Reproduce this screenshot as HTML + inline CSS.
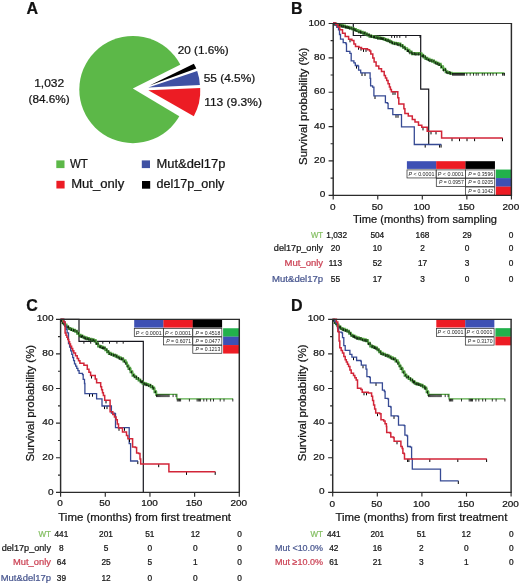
<!DOCTYPE html>
<html lang="en"><head><meta charset="utf-8"><title>Figure</title>
<style>
html,body{margin:0;padding:0;background:#fff;}
svg{display:block;font-family:"Liberation Sans", sans-serif;}
text{stroke-width:0.24px;paint-order:stroke;}
</style></head><body>
<svg width="520" height="584" viewBox="0 0 520 584">
<rect width="520" height="584" fill="#fff"/>
<text x="26.50" y="14.00" font-size="16" text-anchor="start" fill="#111" stroke="#111" font-weight="bold">A</text>
<text x="291.10" y="14.00" font-size="16" text-anchor="start" fill="#111" stroke="#111" font-weight="bold">B</text>
<text x="26.20" y="310.60" font-size="16" text-anchor="start" fill="#111" stroke="#111" font-weight="bold">C</text>
<text x="291.10" y="310.60" font-size="16" text-anchor="start" fill="#111" stroke="#111" font-weight="bold">D</text>
<circle cx="132.9" cy="89.6" r="53.6" fill="#5cb848"/>
<path d="M132.8 88.4L248.8 30.15L243.8 154.65Z" fill="#fff"/>
<path d="M149.6 85.6L193.8 63.7A50 50 0 0 1 196.3 68.5Z" fill="#000"/>
<path d="M148.3 87.6L197.2 70.9A52 52 0 0 1 199.9 84.9Z" fill="#3f51a3"/>
<path d="M148.3 90.2L200.2 88.0A52 52 0 0 1 193.8 116.2Z" fill="#ec1c24"/>
<text x="49.15" y="86.60" font-size="11.6" text-anchor="middle" fill="#141414" stroke="#141414" textLength="30.00" lengthAdjust="spacingAndGlyphs">1,032</text>
<text x="49.15" y="102.80" font-size="11.6" text-anchor="middle" fill="#141414" stroke="#141414" textLength="41.20" lengthAdjust="spacingAndGlyphs">(84.6%)</text>
<text x="177.70" y="54.00" font-size="11.6" text-anchor="start" fill="#141414" stroke="#141414" textLength="51.00" lengthAdjust="spacingAndGlyphs">20 (1.6%)</text>
<text x="203.70" y="81.70" font-size="11.6" text-anchor="start" fill="#141414" stroke="#141414" textLength="51.50" lengthAdjust="spacingAndGlyphs">55 (4.5%)</text>
<text x="204.20" y="106.00" font-size="11.6" text-anchor="start" fill="#141414" stroke="#141414" textLength="57.70" lengthAdjust="spacingAndGlyphs">113 (9.3%)</text>
<rect x="56.3" y="160.4" width="8.2" height="7.7" fill="#5cb848"/>
<rect x="56.4" y="180.8" width="8.2" height="7.7" fill="#ec1c24"/>
<rect x="141.8" y="160.4" width="8.2" height="7.7" fill="#3f51a3"/>
<rect x="142.0" y="181.0" width="8.2" height="7.7" fill="#000"/>
<text x="70.00" y="168.00" font-size="12" text-anchor="start" fill="#141414" stroke="#141414" textLength="17.90" lengthAdjust="spacingAndGlyphs">WT</text>
<text x="71.20" y="188.40" font-size="12" text-anchor="start" fill="#141414" stroke="#141414" textLength="53.00" lengthAdjust="spacingAndGlyphs">Mut_only</text>
<text x="156.50" y="168.00" font-size="12" text-anchor="start" fill="#141414" stroke="#141414" textLength="68.90" lengthAdjust="spacingAndGlyphs">Mut&amp;del17p</text>
<text x="156.50" y="188.40" font-size="12" text-anchor="start" fill="#141414" stroke="#141414" textLength="67.90" lengthAdjust="spacingAndGlyphs">del17p_only</text>
<path d="M360.70 35.50v2.4M391.70 35.50v2.4M394.50 35.50v2.4M397.00 35.50v2.4M399.80 35.50v2.4M405.90 35.50v2.4M420.00 35.50v2.4" stroke="#000" stroke-width="0.9" fill="none"/>
<path d="M333.00 23.50H353.30V23.50H353.30V35.50H420.70V35.50H420.70V89.20H428.70V89.20H428.70V144.50" fill="none" stroke="#15151c" stroke-width="1.2" stroke-linejoin="miter"/>
<path d="M333.00 23.00H334.83V23.40H336.67V23.80H338.50V24.20H340.73V24.73H342.97V25.27H345.20V25.80H347.43V26.47H349.67V27.13H351.90V27.80H354.13V28.70H356.37V29.60H358.60V30.50H360.87V31.37H363.13V32.23H365.40V33.10H367.40V34.15H369.40V35.20H371.63V35.63H373.87V36.07H376.10V36.50H378.37V36.97H380.63V37.43H382.90V37.90H384.70V38.57H386.50V39.23H388.30V39.90H390.00V40.90H391.70V41.90H393.97V42.33H396.23V42.77H398.50V43.20H400.73V44.77H402.97V46.33H405.20V47.90H407.43V49.50H409.67V51.10H411.90V52.70H420.00V52.90H421.80V54.43H423.60V55.97H425.40V57.50H427.63V58.40H429.87V59.30H432.10V60.20H434.33V61.30H436.57V62.40H438.80V63.50H441.07V65.97H443.33V68.43H445.60V70.90H447.73V71.60H449.87V72.30H452.00V73.00" fill="none" stroke="#3f8f38" stroke-width="1.9" transform="translate(0,1.5)"/>
<path d="M333.00 23.00H334.83V23.40H336.67V23.80H338.50V24.20H340.73V24.73H342.97V25.27H345.20V25.80H347.43V26.47H349.67V27.13H351.90V27.80H354.13V28.70H356.37V29.60H358.60V30.50H360.87V31.37H363.13V32.23H365.40V33.10H367.40V34.15H369.40V35.20H371.63V35.63H373.87V36.07H376.10V36.50H378.37V36.97H380.63V37.43H382.90V37.90H384.70V38.57H386.50V39.23H388.30V39.90H390.00V40.90H391.70V41.90H393.97V42.33H396.23V42.77H398.50V43.20H400.73V44.77H402.97V46.33H405.20V47.90H407.43V49.50H409.67V51.10H411.90V52.70H420.00V52.90H421.80V54.43H423.60V55.97H425.40V57.50H427.63V58.40H429.87V59.30H432.10V60.20H434.33V61.30H436.57V62.40H438.80V63.50H441.07V65.97H443.33V68.43H445.60V70.90H447.73V71.60H449.87V72.30H452.00V73.00H504.50V73.00" fill="none" stroke="#5aad48" stroke-width="1.35" stroke-linejoin="miter"/>
<path d="M335.00 23.03v2.38M336.29 22.95v2.84M337.37 23.40v2.47M339.05 24.01v2.91M340.04 23.76v2.61M341.58 24.67v2.92M342.92 24.89v2.90M343.89 24.99v2.59M345.40 25.59v2.92M346.34 26.07v2.41M347.76 26.11v2.46M348.75 26.15v2.64M349.76 27.10v2.48M351.17 26.64v2.59M353.06 27.60v2.70M354.11 28.06v2.78M355.27 28.61v2.73M356.93 29.64v2.34M358.96 30.72v2.85M360.56 30.70v2.86M361.93 31.18v2.58M364.00 31.82v2.74M364.96 31.78v2.35M366.89 32.77v2.41M368.14 33.92v2.34M369.21 33.65v2.41M370.25 34.78v2.55M371.52 34.72v2.91M373.40 35.62v2.40M374.52 35.77v2.54M376.12 36.29v2.39M377.78 36.68v3.00M379.13 36.84v2.64M380.69 37.00v2.37M381.66 37.21v2.49M382.63 37.60v2.41M383.78 37.42v2.97M385.50 38.49v2.40M386.91 39.17v2.32M388.19 39.16v2.98M389.79 40.09v2.79M391.23 40.61v2.56M392.49 41.53v2.84M394.35 42.26v2.85M396.09 42.10v2.46M397.28 42.92v2.99M398.87 43.38v2.86M400.40 43.35v2.82M402.35 44.45v2.66M404.12 46.12v2.32M405.37 47.42v2.50M407.45 49.21v2.78M408.49 49.77v2.61M409.89 51.35v2.99M411.70 51.36v2.56M412.78 52.38v2.46M414.27 52.36v2.44M415.21 52.70v2.93M416.92 52.87v2.64M418.73 52.72v2.86M420.32 52.47v2.76M422.27 54.66v2.85M423.55 54.53v2.63M425.28 55.61v2.85M426.90 57.27v2.86M428.49 58.68v2.58M429.94 59.12v2.96M431.85 59.38v2.42M433.88 59.80v2.41M435.35 61.52v2.86M437.05 62.02v2.88M438.02 62.68v2.76M439.76 63.28v2.68M441.44 65.57v2.31M443.53 68.71v2.75M445.42 68.35v2.95M446.66 70.75v2.91M448.02 71.76v2.45M449.72 71.30v2.51M450.65 71.99v2.71M452.50 73.00v2.7M453.50 73.00v2.7M454.50 73.00v2.7M455.50 73.00v2.7M456.50 73.00v2.7M457.50 73.00v2.7M458.50 73.00v2.7M459.50 73.00v2.7M460.50 73.00v2.7M461.50 73.00v2.7M462.50 73.00v2.7M463.50 73.00v2.7M464.50 73.00v2.7M466.80 73.00v2.7M470.20 73.00v2.7M473.50 73.00v2.7M476.20 73.00v2.7M478.20 73.00v2.7M482.30 73.00v2.7M484.30 73.00v2.7M487.70 73.00v2.7M490.40 73.00v2.7M493.00 73.00v2.7M496.40 73.00v2.7M502.50 73.00v2.7M503.80 73.00v2.7M504.50 73.00v2.7" stroke="#000" stroke-width="0.8" fill="none"/>
<path d="M356.50 65.50v3.1M362.00 72.90v3.1M365.00 72.90v3.1M375.00 95.90v3.1M396.00 114.70v3.1M398.00 114.70v3.1M425.20 144.50v3.1M439.60 144.50v3.1M441.10 144.50v3.1" stroke="#000" stroke-width="1.0" fill="none"/>
<path d="M333.00 23.00H335.10V25.10H336.80V27.45H338.50V29.80H339.50V34.50H340.50V39.20H343.20V42.60H345.90V43.90H346.50V51.30H349.90V53.40H351.20V60.80H353.90V62.80H355.30V65.50H358.00V66.10H358.60V70.20H360.70V72.90H369.40V72.90H370.10V78.30H370.60V85.80H372.60V87.10H373.90V95.90H384.70V95.90H385.40V102.60H387.40V103.30H388.10V108.60H392.10V108.60H392.80V114.70H400.90V114.70H401.50V126.80H414.30V126.80H414.30V144.50H441.30V144.50" fill="none" stroke="#364a94" stroke-width="1.3" stroke-linejoin="miter"/>
<path d="M350.00 39.20v3.1M358.50 46.60v3.1M361.00 47.60v3.1M363.50 48.80v3.1M366.00 48.80v3.1M393.00 91.80v3.1M395.00 91.80v3.1M423.00 127.30v3.1M431.00 131.30v3.1M436.00 131.30v3.1M452.00 138.10v3.1M459.50 138.10v3.1M467.00 138.10v3.1M474.60 138.10v3.1M502.50 138.10v3.1" stroke="#000" stroke-width="1.0" fill="none"/>
<path d="M333.00 23.00H335.80V24.40H337.80V27.10H339.80V29.80H342.50V33.20H345.20V36.50H348.60V39.20H351.90V40.60H353.90V43.90H355.50V46.60H359.00V47.60H361.50V48.80H367.50V49.80H369.60V51.00H370.80V54.00H372.80V58.10H374.10V62.10H376.10V66.10H378.80V68.80H381.50V71.50H384.20V75.60H385.45V78.00H386.70V80.40H388.05V83.75H389.40V87.10H390.40V89.45H391.40V91.80H396.80V91.80H397.80V97.85H398.80V103.90H402.90V103.90H403.90V108.65H404.90V113.40H408.30V116.00H412.30V119.40H415.00V122.10H418.50V125.30H421.80V127.30H426.50V127.30H427.20V131.30H441.30V131.30H441.60V138.10H502.70V138.10" fill="none" stroke="#d22538" stroke-width="1.5" stroke-linejoin="miter"/>
<rect x="406.90" y="161.20" width="29.45" height="7.7" fill="#3e50b4"/>
<rect x="436.20" y="161.20" width="29.45" height="7.7" fill="#ed1c24"/>
<rect x="465.50" y="161.20" width="29.45" height="7.7" fill="#000"/>
<rect x="495.80" y="169.55" width="15.70" height="8.65" fill="#22b14c"/>
<rect x="407.00" y="169.90" width="29.10" height="8.05" fill="#fff" stroke="#333" stroke-width="0.75"/>
<text x="434.50" y="175.85" font-size="5.9" text-anchor="end" fill="#262626" textLength="26.0" lengthAdjust="spacingAndGlyphs"><tspan font-style="italic">P</tspan> &lt; 0.0001</text>
<rect x="436.30" y="169.90" width="29.10" height="8.05" fill="#fff" stroke="#333" stroke-width="0.75"/>
<text x="463.80" y="175.85" font-size="5.9" text-anchor="end" fill="#262626" textLength="26.0" lengthAdjust="spacingAndGlyphs"><tspan font-style="italic">P</tspan> &lt; 0.0001</text>
<rect x="465.60" y="169.90" width="29.10" height="8.05" fill="#fff" stroke="#333" stroke-width="0.75"/>
<text x="493.10" y="175.85" font-size="5.9" text-anchor="end" fill="#262626" textLength="24.8" lengthAdjust="spacingAndGlyphs"><tspan font-style="italic">P</tspan> = 0.3596</text>
<rect x="495.80" y="178.10" width="15.70" height="8.65" fill="#3e50b4"/>
<rect x="436.30" y="178.45" width="29.10" height="8.05" fill="#fff" stroke="#333" stroke-width="0.75"/>
<text x="463.80" y="184.40" font-size="5.9" text-anchor="end" fill="#262626" textLength="24.8" lengthAdjust="spacingAndGlyphs"><tspan font-style="italic">P</tspan> = 0.0957</text>
<rect x="465.60" y="178.45" width="29.10" height="8.05" fill="#fff" stroke="#333" stroke-width="0.75"/>
<text x="493.10" y="184.40" font-size="5.9" text-anchor="end" fill="#262626" textLength="24.8" lengthAdjust="spacingAndGlyphs"><tspan font-style="italic">P</tspan> = 0.0205</text>
<rect x="495.80" y="186.65" width="15.70" height="8.65" fill="#ed1c24"/>
<rect x="465.60" y="187.00" width="29.10" height="8.05" fill="#fff" stroke="#333" stroke-width="0.75"/>
<text x="493.10" y="192.95" font-size="5.9" text-anchor="end" fill="#262626" textLength="24.8" lengthAdjust="spacingAndGlyphs"><tspan font-style="italic">P</tspan> = 0.1042</text>
<path d="M332.5 23.5H512.1M332.5 195.3H512.1" fill="none" stroke="#2b2b2b" stroke-width="1.15"/>
<path d="M333.2 23.5V195.3M511.4 23.5V195.3" fill="none" stroke="#2b2b2b" stroke-width="1.45"/>
<path d="M333.2 23.50h-4.6M333.2 40.68h-2.6M333.2 57.86h-4.6M333.2 75.04h-2.6M333.2 92.22h-4.6M333.2 109.40h-2.6M333.2 126.58h-4.6M333.2 143.76h-2.6M333.2 160.94h-4.6M333.2 178.12h-2.6M333.2 195.30h-4.6M333.20 195.3v4.3M377.75 195.3v4.3M422.30 195.3v4.3M466.85 195.3v4.3M511.40 195.3v4.3" stroke="#2b2b2b" stroke-width="1.15" fill="none"/>
<text x="325.30" y="25.60" font-size="9.9" text-anchor="end" fill="#141414" stroke="#141414" textLength="16.74" lengthAdjust="spacingAndGlyphs">100</text>
<text x="325.30" y="59.96" font-size="9.9" text-anchor="end" fill="#141414" stroke="#141414" textLength="11.16" lengthAdjust="spacingAndGlyphs">80</text>
<text x="325.30" y="94.32" font-size="9.9" text-anchor="end" fill="#141414" stroke="#141414" textLength="11.16" lengthAdjust="spacingAndGlyphs">60</text>
<text x="325.30" y="128.68" font-size="9.9" text-anchor="end" fill="#141414" stroke="#141414" textLength="11.16" lengthAdjust="spacingAndGlyphs">40</text>
<text x="325.30" y="163.04" font-size="9.9" text-anchor="end" fill="#141414" stroke="#141414" textLength="11.16" lengthAdjust="spacingAndGlyphs">20</text>
<text x="325.30" y="197.40" font-size="9.9" text-anchor="end" fill="#141414" stroke="#141414" textLength="5.58" lengthAdjust="spacingAndGlyphs">0</text>
<text x="332.70" y="210.30" font-size="9.7" text-anchor="middle" fill="#141414" stroke="#141414" textLength="5.55" lengthAdjust="spacingAndGlyphs">0</text>
<text x="377.25" y="210.30" font-size="9.7" text-anchor="middle" fill="#141414" stroke="#141414" textLength="11.10" lengthAdjust="spacingAndGlyphs">50</text>
<text x="421.80" y="210.30" font-size="9.7" text-anchor="middle" fill="#141414" stroke="#141414" textLength="16.65" lengthAdjust="spacingAndGlyphs">100</text>
<text x="466.35" y="210.30" font-size="9.7" text-anchor="middle" fill="#141414" stroke="#141414" textLength="16.65" lengthAdjust="spacingAndGlyphs">150</text>
<text x="510.90" y="210.30" font-size="9.7" text-anchor="middle" fill="#141414" stroke="#141414" textLength="16.65" lengthAdjust="spacingAndGlyphs">200</text>
<text x="307.30" y="165.00" font-size="11.4" text-anchor="start" fill="#141414" stroke="#141414" textLength="117.40" lengthAdjust="spacingAndGlyphs" transform="rotate(-90 307.30 165.00)">Survival probability (%)</text>
<text x="353.00" y="223.40" font-size="11.4" text-anchor="start" fill="#141414" stroke="#141414" textLength="144.00" lengthAdjust="spacingAndGlyphs">Time (months) from sampling</text>
<text x="323.10" y="238.20" font-size="9.1" text-anchor="end" fill="#84bf62" stroke="#84bf62" textLength="12.20" lengthAdjust="spacingAndGlyphs">WT</text>
<text x="323.10" y="251.10" font-size="9.1" text-anchor="end" fill="#1a1a1a" stroke="#1a1a1a" textLength="49.30" lengthAdjust="spacingAndGlyphs">del17p_only</text>
<text x="323.10" y="266.00" font-size="9.1" text-anchor="end" fill="#cc4456" stroke="#cc4456" textLength="38.60" lengthAdjust="spacingAndGlyphs">Mut_only</text>
<text x="323.10" y="281.60" font-size="9.1" text-anchor="end" fill="#4a5890" stroke="#4a5890" textLength="51.00" lengthAdjust="spacingAndGlyphs">Mut&amp;del17p</text>
<text x="336.70" y="238.20" font-size="8.3" text-anchor="middle" fill="#141414" stroke="#141414">1,032</text>
<text x="377.30" y="238.20" font-size="8.3" text-anchor="middle" fill="#141414" stroke="#141414">504</text>
<text x="422.50" y="238.20" font-size="8.3" text-anchor="middle" fill="#141414" stroke="#141414">168</text>
<text x="467.00" y="238.20" font-size="8.3" text-anchor="middle" fill="#141414" stroke="#141414">29</text>
<text x="511.00" y="238.20" font-size="8.3" text-anchor="middle" fill="#141414" stroke="#141414">0</text>
<text x="335.40" y="251.10" font-size="8.3" text-anchor="middle" fill="#141414" stroke="#141414">20</text>
<text x="377.30" y="251.10" font-size="8.3" text-anchor="middle" fill="#141414" stroke="#141414">10</text>
<text x="422.50" y="251.10" font-size="8.3" text-anchor="middle" fill="#141414" stroke="#141414">2</text>
<text x="467.00" y="251.10" font-size="8.3" text-anchor="middle" fill="#141414" stroke="#141414">0</text>
<text x="511.00" y="251.10" font-size="8.3" text-anchor="middle" fill="#141414" stroke="#141414">0</text>
<text x="335.40" y="266.00" font-size="8.3" text-anchor="middle" fill="#141414" stroke="#141414">113</text>
<text x="377.30" y="266.00" font-size="8.3" text-anchor="middle" fill="#141414" stroke="#141414">52</text>
<text x="422.50" y="266.00" font-size="8.3" text-anchor="middle" fill="#141414" stroke="#141414">17</text>
<text x="467.00" y="266.00" font-size="8.3" text-anchor="middle" fill="#141414" stroke="#141414">3</text>
<text x="511.00" y="266.00" font-size="8.3" text-anchor="middle" fill="#141414" stroke="#141414">0</text>
<text x="335.40" y="281.60" font-size="8.3" text-anchor="middle" fill="#141414" stroke="#141414">55</text>
<text x="377.30" y="281.60" font-size="8.3" text-anchor="middle" fill="#141414" stroke="#141414">17</text>
<text x="422.50" y="281.60" font-size="8.3" text-anchor="middle" fill="#141414" stroke="#141414">3</text>
<text x="467.00" y="281.60" font-size="8.3" text-anchor="middle" fill="#141414" stroke="#141414">0</text>
<text x="511.00" y="281.60" font-size="8.3" text-anchor="middle" fill="#141414" stroke="#141414">0</text>
<path d="M83.90 341.30v2.4M90.70 341.30v2.4M102.80 341.30v2.4M109.50 341.30v2.4M116.90 341.30v2.4M123.20 341.30v2.4" stroke="#000" stroke-width="0.9" fill="none"/>
<path d="M60.60 319.30H79.00V319.30H79.00V341.30H143.30V341.30H143.30V492.40" fill="none" stroke="#15151c" stroke-width="1.2" stroke-linejoin="miter"/>
<path d="M60.60 319.30H62.50V321.50H63.80V322.85H65.10V324.20H66.80V325.90H68.50V327.60H70.73V328.50H72.97V329.40H75.20V330.30H77.10V332.30H79.00V334.30H80.87V335.20H82.73V336.10H84.60V337.00H86.95V337.68H89.30V338.35H91.65V339.02H94.00V339.70H96.05V342.40H98.10V345.10H99.90V345.77H101.70V346.43H103.50V347.10H105.27V348.90H107.03V350.70H108.80V352.50H111.07V353.40H113.33V354.30H115.60V355.20H117.40V356.10H119.20V357.00H121.00V357.90H123.40V360.00H125.80V362.10H127.15V364.80H128.50V367.50H130.50V370.85H132.50V374.20H134.50V375.90H136.50V377.60H138.53V379.17H140.57V380.73H142.60V382.30H144.60V382.97H146.60V383.63H148.60V384.30H150.65V385.75H152.70V387.20H154.50V390.80H156.30V394.40" fill="none" stroke="#3f8f38" stroke-width="1.9" transform="translate(0,1.5)"/>
<path d="M60.60 319.30H62.50V321.50H63.80V322.85H65.10V324.20H66.80V325.90H68.50V327.60H70.73V328.50H72.97V329.40H75.20V330.30H77.10V332.30H79.00V334.30H80.87V335.20H82.73V336.10H84.60V337.00H86.95V337.68H89.30V338.35H91.65V339.02H94.00V339.70H96.05V342.40H98.10V345.10H99.90V345.77H101.70V346.43H103.50V347.10H105.27V348.90H107.03V350.70H108.80V352.50H111.07V353.40H113.33V354.30H115.60V355.20H117.40V356.10H119.20V357.00H121.00V357.90H123.40V360.00H125.80V362.10H127.15V364.80H128.50V367.50H130.50V370.85H132.50V374.20H134.50V375.90H136.50V377.60H138.53V379.17H140.57V380.73H142.60V382.30H144.60V382.97H146.60V383.63H148.60V384.30H150.65V385.75H152.70V387.20H154.50V390.80H156.30V394.40H176.90V394.40H176.90V398.80H233.10V398.80" fill="none" stroke="#5aad48" stroke-width="1.35" stroke-linejoin="miter"/>
<path d="M61.50 318.91v2.92M62.71 321.77v2.45M64.11 323.11v2.58M65.17 324.09v2.99M67.16 326.07v2.41M68.49 325.75v2.66M69.94 327.37v2.44M71.54 328.25v2.81M73.52 328.92v2.69M74.93 329.25v2.31M76.93 330.07v2.74M78.43 332.21v2.35M79.97 334.59v2.85M81.50 335.48v2.37M82.42 334.91v2.33M83.85 336.22v2.49M84.97 336.60v2.60M85.87 337.23v2.87M87.73 337.38v2.40M88.84 337.91v2.70M90.31 338.41v2.36M92.08 338.57v2.78M93.64 338.87v2.35M94.94 339.95v2.74M96.46 342.54v2.36M98.02 342.58v2.35M99.87 345.29v2.62M100.89 345.54v2.69M102.46 346.67v2.49M103.66 346.70v2.67M104.90 346.79v2.38M106.72 348.53v2.34M108.23 350.36v2.52M109.81 352.24v2.83M111.62 353.13v2.65M113.61 353.94v2.54M115.04 353.81v2.48M116.68 354.71v2.81M118.19 356.04v2.43M119.70 356.88v2.95M121.43 357.49v2.87M122.87 357.75v2.65M124.41 360.17v2.58M125.89 362.01v2.78M127.92 365.09v2.54M129.66 367.67v2.79M131.61 370.86v2.58M133.64 373.98v2.34M134.85 375.50v2.35M136.42 375.99v2.48M138.45 377.23v2.36M140.36 379.34v2.91M141.43 380.77v2.50M142.47 380.43v2.51M143.90 382.17v2.41M144.89 382.82v2.48M146.08 383.24v2.98M147.07 383.57v2.47M148.77 384.57v2.52M150.61 384.09v2.30M152.59 385.56v2.63M153.67 387.10v2.44M155.43 390.70v2.30M156.50 394.40v2.7M157.55 394.40v2.7M158.60 394.40v2.7M159.65 394.40v2.7M160.70 394.40v2.7M161.75 394.40v2.7M162.80 394.40v2.7M163.85 394.40v2.7M164.90 394.40v2.7M165.95 394.40v2.7M167.00 394.40v2.7M168.05 394.40v2.7M169.10 394.40v2.7M173.10 394.40v2.7M176.00 394.40v2.7M177.30 398.80v2.7M178.40 398.80v2.7M179.50 398.80v2.7M180.60 398.80v2.7M189.40 398.80v2.7M197.10 398.80v2.7M198.30 398.80v2.7M199.40 398.80v2.7M200.40 398.80v2.7M203.80 398.80v2.7M206.70 398.80v2.7M210.60 398.80v2.7M213.50 398.80v2.7M220.20 398.80v2.7M224.00 398.80v2.7M232.80 398.80v2.7" stroke="#000" stroke-width="0.8" fill="none"/>
<path d="M89.50 393.60v3.1M92.50 393.60v3.1M104.50 406.00v3.1M107.00 406.00v3.1M119.00 427.70v3.1M124.50 427.70v3.1M137.80 461.00v3.1" stroke="#000" stroke-width="1.0" fill="none"/>
<path d="M60.60 319.30H64.00V322.00H65.03V325.63H66.07V329.27H67.10V332.90H68.50V343.60H69.60V347.20H70.70V350.80H71.80V354.40H72.70V357.53H73.60V360.67H74.50V363.80H75.63V366.07H76.77V368.33H77.90V370.60H79.10V373.40H82.50V374.70H83.20V379.40H84.50V383.50H84.90V393.60H96.00V393.60H96.60V398.90H101.30V398.90H102.00V406.00H110.80V406.00H111.40V413.10H114.80V413.70H115.50V427.70H129.20V427.70H129.20V443.60H130.60V444.20H130.60V461.00H138.00V461.00" fill="none" stroke="#364a94" stroke-width="1.3" stroke-linejoin="miter"/>
<path d="M91.50 375.40v3.1M106.00 400.30v3.1M129.50 438.80v3.1M158.70 464.10v3.1M186.50 471.80v3.1M215.20 471.80v3.1" stroke="#000" stroke-width="1.0" fill="none"/>
<path d="M60.60 319.30H63.50V322.00H65.10V332.90H66.00V335.13H66.90V337.37H67.80V339.60H68.70V341.83H69.60V344.07H70.50V346.30H71.60V348.57H72.70V350.83H73.80V353.10H75.50V355.80H77.20V358.50H78.55V360.85H79.90V363.20H83.90V365.20H87.30V369.20H88.95V372.30H90.60V375.40H93.90V375.40H95.25V379.10H96.60V382.80H100.70V386.80H101.60V389.73H102.50V392.67H103.40V395.60H104.70V400.30H108.70V400.30H110.10V411.70H112.80V414.40H114.45V417.10H116.10V419.80H117.30V423.95H118.50V428.10H122.50V432.10H126.50V435.50H127.90V438.80H131.90V438.80H132.60V446.90H135.30V447.60H136.60V453.00H138.60V453.60H140.00V459.00H140.70V464.10H168.90V464.10H168.90V471.80H215.40V471.80" fill="none" stroke="#d22538" stroke-width="1.5" stroke-linejoin="miter"/>
<rect x="134.20" y="319.90" width="29.40" height="7.7" fill="#3e50b4"/>
<rect x="163.45" y="319.90" width="29.40" height="7.7" fill="#ed1c24"/>
<rect x="192.70" y="319.90" width="29.40" height="7.7" fill="#000"/>
<rect x="223.10" y="328.25" width="16.20" height="8.50" fill="#22b14c"/>
<rect x="134.30" y="328.60" width="29.05" height="7.90" fill="#fff" stroke="#333" stroke-width="0.75"/>
<text x="161.75" y="334.55" font-size="5.9" text-anchor="end" fill="#262626" textLength="26.0" lengthAdjust="spacingAndGlyphs"><tspan font-style="italic">P</tspan> &lt; 0.0001</text>
<rect x="163.55" y="328.60" width="29.05" height="7.90" fill="#fff" stroke="#333" stroke-width="0.75"/>
<text x="191.00" y="334.55" font-size="5.9" text-anchor="end" fill="#262626" textLength="26.0" lengthAdjust="spacingAndGlyphs"><tspan font-style="italic">P</tspan> &lt; 0.0001</text>
<rect x="192.80" y="328.60" width="29.05" height="7.90" fill="#fff" stroke="#333" stroke-width="0.75"/>
<text x="220.25" y="334.55" font-size="5.9" text-anchor="end" fill="#262626" textLength="24.8" lengthAdjust="spacingAndGlyphs"><tspan font-style="italic">P</tspan> = 0.4518</text>
<rect x="223.10" y="336.65" width="16.20" height="8.50" fill="#3e50b4"/>
<rect x="163.55" y="337.00" width="29.05" height="7.90" fill="#fff" stroke="#333" stroke-width="0.75"/>
<text x="191.00" y="342.95" font-size="5.9" text-anchor="end" fill="#262626" textLength="24.8" lengthAdjust="spacingAndGlyphs"><tspan font-style="italic">P</tspan> = 0.6071</text>
<rect x="192.80" y="337.00" width="29.05" height="7.90" fill="#fff" stroke="#333" stroke-width="0.75"/>
<text x="220.25" y="342.95" font-size="5.9" text-anchor="end" fill="#262626" textLength="24.8" lengthAdjust="spacingAndGlyphs"><tspan font-style="italic">P</tspan> = 0.0477</text>
<rect x="223.10" y="345.05" width="16.20" height="8.50" fill="#ed1c24"/>
<rect x="192.80" y="345.40" width="29.05" height="7.90" fill="#fff" stroke="#333" stroke-width="0.75"/>
<text x="220.25" y="351.35" font-size="5.9" text-anchor="end" fill="#262626" textLength="24.8" lengthAdjust="spacingAndGlyphs"><tspan font-style="italic">P</tspan> = 0.1213</text>
<path d="M59.9 319.3H240.0M59.9 492.4H240.0" fill="none" stroke="#2b2b2b" stroke-width="1.15"/>
<path d="M60.6 319.3V492.4M239.3 319.3V492.4" fill="none" stroke="#2b2b2b" stroke-width="1.45"/>
<path d="M60.6 319.30h-4.6M60.6 336.61h-2.6M60.6 353.92h-4.6M60.6 371.23h-2.6M60.6 388.54h-4.6M60.6 405.85h-2.6M60.6 423.16h-4.6M60.6 440.47h-2.6M60.6 457.78h-4.6M60.6 475.09h-2.6M60.6 492.40h-4.6M60.60 492.4v4.3M105.28 492.4v4.3M149.95 492.4v4.3M194.62 492.4v4.3M239.30 492.4v4.3" stroke="#2b2b2b" stroke-width="1.15" fill="none"/>
<text x="53.50" y="321.40" font-size="9.9" text-anchor="end" fill="#141414" stroke="#141414" textLength="16.74" lengthAdjust="spacingAndGlyphs">100</text>
<text x="53.50" y="356.02" font-size="9.9" text-anchor="end" fill="#141414" stroke="#141414" textLength="11.16" lengthAdjust="spacingAndGlyphs">80</text>
<text x="53.50" y="390.64" font-size="9.9" text-anchor="end" fill="#141414" stroke="#141414" textLength="11.16" lengthAdjust="spacingAndGlyphs">60</text>
<text x="53.50" y="425.26" font-size="9.9" text-anchor="end" fill="#141414" stroke="#141414" textLength="11.16" lengthAdjust="spacingAndGlyphs">40</text>
<text x="53.50" y="459.88" font-size="9.9" text-anchor="end" fill="#141414" stroke="#141414" textLength="11.16" lengthAdjust="spacingAndGlyphs">20</text>
<text x="53.50" y="494.50" font-size="9.9" text-anchor="end" fill="#141414" stroke="#141414" textLength="5.58" lengthAdjust="spacingAndGlyphs">0</text>
<text x="60.10" y="506.20" font-size="9.7" text-anchor="middle" fill="#141414" stroke="#141414" textLength="5.55" lengthAdjust="spacingAndGlyphs">0</text>
<text x="104.78" y="506.20" font-size="9.7" text-anchor="middle" fill="#141414" stroke="#141414" textLength="11.10" lengthAdjust="spacingAndGlyphs">50</text>
<text x="149.45" y="506.20" font-size="9.7" text-anchor="middle" fill="#141414" stroke="#141414" textLength="16.65" lengthAdjust="spacingAndGlyphs">100</text>
<text x="194.12" y="506.20" font-size="9.7" text-anchor="middle" fill="#141414" stroke="#141414" textLength="16.65" lengthAdjust="spacingAndGlyphs">150</text>
<text x="238.80" y="506.20" font-size="9.7" text-anchor="middle" fill="#141414" stroke="#141414" textLength="16.65" lengthAdjust="spacingAndGlyphs">200</text>
<text x="34.20" y="461.60" font-size="11.4" text-anchor="start" fill="#141414" stroke="#141414" textLength="116.70" lengthAdjust="spacingAndGlyphs" transform="rotate(-90 34.20 461.60)">Survival probability (%)</text>
<text x="58.30" y="520.50" font-size="11.4" text-anchor="start" fill="#141414" stroke="#141414" textLength="172.70" lengthAdjust="spacingAndGlyphs">Time (months) from first treatment</text>
<text x="51.00" y="536.60" font-size="9.1" text-anchor="end" fill="#84bf62" stroke="#84bf62" textLength="12.60" lengthAdjust="spacingAndGlyphs">WT</text>
<text x="51.00" y="550.70" font-size="9.1" text-anchor="end" fill="#1a1a1a" stroke="#1a1a1a" textLength="49.30" lengthAdjust="spacingAndGlyphs">del17p_only</text>
<text x="51.00" y="565.20" font-size="9.1" text-anchor="end" fill="#cc4456" stroke="#cc4456" textLength="38.00" lengthAdjust="spacingAndGlyphs">Mut_only</text>
<text x="51.00" y="581.10" font-size="9.1" text-anchor="end" fill="#4a5890" stroke="#4a5890" textLength="50.30" lengthAdjust="spacingAndGlyphs">Mut&amp;del17p</text>
<text x="61.40" y="536.60" font-size="8.3" text-anchor="middle" fill="#141414" stroke="#141414">441</text>
<text x="106.00" y="536.60" font-size="8.3" text-anchor="middle" fill="#141414" stroke="#141414">201</text>
<text x="149.75" y="536.60" font-size="8.3" text-anchor="middle" fill="#141414" stroke="#141414">51</text>
<text x="195.30" y="536.60" font-size="8.3" text-anchor="middle" fill="#141414" stroke="#141414">12</text>
<text x="239.50" y="536.60" font-size="8.3" text-anchor="middle" fill="#141414" stroke="#141414">0</text>
<text x="61.40" y="550.70" font-size="8.3" text-anchor="middle" fill="#141414" stroke="#141414">8</text>
<text x="106.00" y="550.70" font-size="8.3" text-anchor="middle" fill="#141414" stroke="#141414">5</text>
<text x="149.75" y="550.70" font-size="8.3" text-anchor="middle" fill="#141414" stroke="#141414">0</text>
<text x="195.30" y="550.70" font-size="8.3" text-anchor="middle" fill="#141414" stroke="#141414">0</text>
<text x="239.50" y="550.70" font-size="8.3" text-anchor="middle" fill="#141414" stroke="#141414">0</text>
<text x="61.40" y="565.20" font-size="8.3" text-anchor="middle" fill="#141414" stroke="#141414">64</text>
<text x="106.00" y="565.20" font-size="8.3" text-anchor="middle" fill="#141414" stroke="#141414">25</text>
<text x="149.75" y="565.20" font-size="8.3" text-anchor="middle" fill="#141414" stroke="#141414">5</text>
<text x="195.30" y="565.20" font-size="8.3" text-anchor="middle" fill="#141414" stroke="#141414">1</text>
<text x="239.50" y="565.20" font-size="8.3" text-anchor="middle" fill="#141414" stroke="#141414">0</text>
<text x="61.40" y="581.10" font-size="8.3" text-anchor="middle" fill="#141414" stroke="#141414">39</text>
<text x="106.00" y="581.10" font-size="8.3" text-anchor="middle" fill="#141414" stroke="#141414">12</text>
<text x="149.75" y="581.10" font-size="8.3" text-anchor="middle" fill="#141414" stroke="#141414">0</text>
<text x="195.30" y="581.10" font-size="8.3" text-anchor="middle" fill="#141414" stroke="#141414">0</text>
<text x="239.50" y="581.10" font-size="8.3" text-anchor="middle" fill="#141414" stroke="#141414">0</text>
<path d="M332.70 319.30H334.60V321.50H335.90V322.85H337.20V324.20H338.90V325.90H340.60V327.60H342.83V328.50H345.07V329.40H347.30V330.30H349.20V332.30H351.10V334.30H352.97V335.20H354.83V336.10H356.70V337.00H359.05V337.68H361.40V338.35H363.75V339.02H366.10V339.70H368.15V342.40H370.20V345.10H372.00V345.77H373.80V346.43H375.60V347.10H377.37V348.90H379.13V350.70H380.90V352.50H383.17V353.40H385.43V354.30H387.70V355.20H389.50V356.10H391.30V357.00H393.10V357.90H395.50V360.00H397.90V362.10H399.25V364.80H400.60V367.50H402.60V370.85H404.60V374.20H406.60V375.90H408.60V377.60H410.63V379.17H412.67V380.73H414.70V382.30H416.70V382.97H418.70V383.63H420.70V384.30H422.75V385.75H424.80V387.20H426.60V390.80H428.40V394.40" fill="none" stroke="#3f8f38" stroke-width="1.9" transform="translate(0,1.5)"/>
<path d="M332.70 319.30H334.60V321.50H335.90V322.85H337.20V324.20H338.90V325.90H340.60V327.60H342.83V328.50H345.07V329.40H347.30V330.30H349.20V332.30H351.10V334.30H352.97V335.20H354.83V336.10H356.70V337.00H359.05V337.68H361.40V338.35H363.75V339.02H366.10V339.70H368.15V342.40H370.20V345.10H372.00V345.77H373.80V346.43H375.60V347.10H377.37V348.90H379.13V350.70H380.90V352.50H383.17V353.40H385.43V354.30H387.70V355.20H389.50V356.10H391.30V357.00H393.10V357.90H395.50V360.00H397.90V362.10H399.25V364.80H400.60V367.50H402.60V370.85H404.60V374.20H406.60V375.90H408.60V377.60H410.63V379.17H412.67V380.73H414.70V382.30H416.70V382.97H418.70V383.63H420.70V384.30H422.75V385.75H424.80V387.20H426.60V390.80H428.40V394.40H449.00V394.40H449.00V398.80H505.20V398.80" fill="none" stroke="#5aad48" stroke-width="1.35" stroke-linejoin="miter"/>
<path d="M333.60 319.01v2.36M334.81 321.32v2.33M336.21 322.37v2.51M337.27 323.89v2.71M339.26 325.82v2.83M340.59 325.93v2.80M342.04 327.80v2.57M343.64 328.26v2.99M345.62 329.02v2.81M347.03 329.41v2.33M349.03 330.47v2.92M350.53 332.30v2.81M352.07 334.45v2.40M353.60 335.12v2.65M354.52 335.37v2.86M355.95 336.26v2.71M357.07 337.21v2.78M357.97 337.05v2.46M359.83 337.20v2.39M360.94 337.46v2.37M362.41 338.52v2.69M364.18 339.03v2.74M365.74 339.07v2.64M367.04 339.20v2.86M368.56 342.50v2.65M370.12 342.33v2.76M371.97 344.65v2.82M372.99 345.47v2.35M374.56 346.15v2.81M375.76 346.76v2.82M377.00 347.38v2.65M378.82 348.71v2.64M380.33 350.75v2.84M381.91 352.49v2.75M383.72 352.96v2.40M385.71 354.00v2.82M387.14 354.04v2.70M388.78 354.71v2.34M390.29 355.82v2.77M391.80 357.05v2.77M393.53 357.63v2.66M394.97 357.77v2.63M396.51 359.59v2.93M397.99 361.76v2.98M400.02 365.05v2.31M401.76 367.37v2.87M403.71 371.12v2.61M405.74 373.91v2.45M406.95 376.16v2.45M408.52 375.87v2.40M410.55 377.52v2.97M412.46 378.77v2.87M413.53 380.64v2.92M414.57 380.80v2.46M416.00 382.52v2.64M416.99 382.49v2.30M418.18 382.86v2.62M419.17 383.37v2.40M420.87 384.08v2.52M422.71 384.47v2.30M424.69 385.85v2.89M425.77 386.80v2.95M427.53 390.87v2.93M428.60 394.40v2.7M429.65 394.40v2.7M430.70 394.40v2.7M431.75 394.40v2.7M432.80 394.40v2.7M433.85 394.40v2.7M434.90 394.40v2.7M435.95 394.40v2.7M437.00 394.40v2.7M438.05 394.40v2.7M439.10 394.40v2.7M440.15 394.40v2.7M441.20 394.40v2.7M445.20 394.40v2.7M448.10 394.40v2.7M449.40 398.80v2.7M450.50 398.80v2.7M451.60 398.80v2.7M452.70 398.80v2.7M461.50 398.80v2.7M469.20 398.80v2.7M470.40 398.80v2.7M471.50 398.80v2.7M472.50 398.80v2.7M475.90 398.80v2.7M478.80 398.80v2.7M482.70 398.80v2.7M485.60 398.80v2.7M492.30 398.80v2.7M496.10 398.80v2.7M504.90 398.80v2.7" stroke="#000" stroke-width="0.8" fill="none"/>
<path d="M353.50 357.10v3.1M363.00 365.20v3.1M376.00 382.80v3.1M394.00 415.80v3.1M458.30 480.90v3.1" stroke="#000" stroke-width="1.0" fill="none"/>
<path d="M332.70 319.30H334.55V321.40H336.40V323.50H337.45V327.85H338.50V332.20H341.80V332.90H342.50V337.60H343.80V345.70H345.20V350.40H349.20V350.40H349.90V354.40H351.90V357.10H356.00V357.10H356.60V360.50H360.70V361.10H361.30V365.20H365.40V365.20H366.00V369.20H366.90V376.70H369.60V377.40H370.30V382.80H381.00V382.80H382.40V390.20H384.40V391.50H385.10V398.30H387.80V398.90H388.50V406.30H390.50V407.00H391.10V415.80H397.90V416.40H398.50V425.20H404.20V425.70H404.90V435.10H406.90V435.80H407.60V446.50H410.30V447.20H411.60V458.60H412.30V469.10H440.30V469.10H440.50V480.90H458.50V480.90" fill="none" stroke="#364a94" stroke-width="1.3" stroke-linejoin="miter"/>
<path d="M364.00 392.20v3.1M366.50 392.20v3.1M377.50 413.10v3.1M397.00 441.20v3.1M407.60 458.90v3.1M408.90 458.90v3.1M429.80 458.90v3.1M457.80 458.90v3.1M486.60 458.90v3.1" stroke="#000" stroke-width="1.0" fill="none"/>
<path d="M332.70 319.30H336.40V322.10H337.80V331.50H339.10V341.00H339.80V347.70H341.15V350.40H342.50V353.10H343.85V356.45H345.20V359.80H346.33V362.03H347.47V364.27H348.60V366.50H349.90V369.90H351.20V373.30H353.50V375.40H354.85V377.75H356.20V380.10H357.50V388.20H360.90V389.50H362.20V392.20H368.30V392.90H371.60V396.20H372.60V400.60H373.60V405.00H374.65V409.05H375.70V413.10H379.70V413.70H381.00V419.80H383.70V421.10H385.05V423.80H386.40V426.50H386.70V432.40H390.10V433.10H390.80V437.10H393.50V437.80H394.10V441.20H400.20V441.20H400.90V446.50H402.20V448.60H402.90V453.30H404.20V453.90H404.50V458.90H486.80V458.90" fill="none" stroke="#d22538" stroke-width="1.5" stroke-linejoin="miter"/>
<rect x="436.30" y="319.80" width="29.10" height="7.7" fill="#ed1c24"/>
<rect x="465.25" y="319.80" width="29.10" height="7.7" fill="#3e50b4"/>
<rect x="495.40" y="328.15" width="15.70" height="8.65" fill="#22b14c"/>
<rect x="436.40" y="328.50" width="28.75" height="8.05" fill="#fff" stroke="#333" stroke-width="0.75"/>
<text x="463.55" y="334.45" font-size="5.9" text-anchor="end" fill="#262626" textLength="26.0" lengthAdjust="spacingAndGlyphs"><tspan font-style="italic">P</tspan> &lt; 0.0001</text>
<rect x="465.35" y="328.50" width="28.75" height="8.05" fill="#fff" stroke="#333" stroke-width="0.75"/>
<text x="492.50" y="334.45" font-size="5.9" text-anchor="end" fill="#262626" textLength="26.0" lengthAdjust="spacingAndGlyphs"><tspan font-style="italic">P</tspan> &lt; 0.0001</text>
<rect x="495.40" y="336.70" width="15.70" height="8.65" fill="#ed1c24"/>
<rect x="465.35" y="337.05" width="28.75" height="8.05" fill="#fff" stroke="#333" stroke-width="0.75"/>
<text x="492.50" y="343.00" font-size="5.9" text-anchor="end" fill="#262626" textLength="24.8" lengthAdjust="spacingAndGlyphs"><tspan font-style="italic">P</tspan> = 0.3170</text>
<path d="M332.0 319.3H511.8M332.0 492.3H511.8" fill="none" stroke="#2b2b2b" stroke-width="1.15"/>
<path d="M332.7 319.3V492.3M511.1 319.3V492.3" fill="none" stroke="#2b2b2b" stroke-width="1.45"/>
<path d="M332.7 319.30h-4.6M332.7 336.60h-2.6M332.7 353.90h-4.6M332.7 371.20h-2.6M332.7 388.50h-4.6M332.7 405.80h-2.6M332.7 423.10h-4.6M332.7 440.40h-2.6M332.7 457.70h-4.6M332.7 475.00h-2.6M332.7 492.30h-4.6M332.70 492.3v4.3M377.30 492.3v4.3M421.90 492.3v4.3M466.50 492.3v4.3M511.10 492.3v4.3" stroke="#2b2b2b" stroke-width="1.15" fill="none"/>
<text x="324.50" y="321.40" font-size="9.9" text-anchor="end" fill="#141414" stroke="#141414" textLength="16.74" lengthAdjust="spacingAndGlyphs">100</text>
<text x="324.50" y="356.00" font-size="9.9" text-anchor="end" fill="#141414" stroke="#141414" textLength="11.16" lengthAdjust="spacingAndGlyphs">80</text>
<text x="324.50" y="390.60" font-size="9.9" text-anchor="end" fill="#141414" stroke="#141414" textLength="11.16" lengthAdjust="spacingAndGlyphs">60</text>
<text x="324.50" y="425.20" font-size="9.9" text-anchor="end" fill="#141414" stroke="#141414" textLength="11.16" lengthAdjust="spacingAndGlyphs">40</text>
<text x="324.50" y="459.80" font-size="9.9" text-anchor="end" fill="#141414" stroke="#141414" textLength="11.16" lengthAdjust="spacingAndGlyphs">20</text>
<text x="324.50" y="494.40" font-size="9.9" text-anchor="end" fill="#141414" stroke="#141414" textLength="5.58" lengthAdjust="spacingAndGlyphs">0</text>
<text x="332.20" y="506.60" font-size="9.7" text-anchor="middle" fill="#141414" stroke="#141414" textLength="5.55" lengthAdjust="spacingAndGlyphs">0</text>
<text x="376.80" y="506.60" font-size="9.7" text-anchor="middle" fill="#141414" stroke="#141414" textLength="11.10" lengthAdjust="spacingAndGlyphs">50</text>
<text x="421.40" y="506.60" font-size="9.7" text-anchor="middle" fill="#141414" stroke="#141414" textLength="16.65" lengthAdjust="spacingAndGlyphs">100</text>
<text x="466.00" y="506.60" font-size="9.7" text-anchor="middle" fill="#141414" stroke="#141414" textLength="16.65" lengthAdjust="spacingAndGlyphs">150</text>
<text x="510.60" y="506.60" font-size="9.7" text-anchor="middle" fill="#141414" stroke="#141414" textLength="16.65" lengthAdjust="spacingAndGlyphs">200</text>
<text x="306.00" y="461.20" font-size="11.4" text-anchor="start" fill="#141414" stroke="#141414" textLength="116.80" lengthAdjust="spacingAndGlyphs" transform="rotate(-90 306.00 461.20)">Survival probability (%)</text>
<text x="335.40" y="520.50" font-size="11.4" text-anchor="start" fill="#141414" stroke="#141414" textLength="172.00" lengthAdjust="spacingAndGlyphs">Time (months) from first treatment</text>
<text x="323.00" y="536.60" font-size="9.1" text-anchor="end" fill="#84bf62" stroke="#84bf62" textLength="12.50" lengthAdjust="spacingAndGlyphs">WT</text>
<text x="323.00" y="550.70" font-size="9.1" text-anchor="end" fill="#4a5890" stroke="#4a5890" textLength="48.00" lengthAdjust="spacingAndGlyphs">Mut &lt;10.0%</text>
<text x="323.00" y="565.20" font-size="9.1" text-anchor="end" fill="#cc4456" stroke="#cc4456" textLength="48.00" lengthAdjust="spacingAndGlyphs">Mut ≥10.0%</text>
<text x="333.80" y="536.60" font-size="8.3" text-anchor="middle" fill="#141414" stroke="#141414">441</text>
<text x="377.30" y="536.60" font-size="8.3" text-anchor="middle" fill="#141414" stroke="#141414">201</text>
<text x="421.30" y="536.60" font-size="8.3" text-anchor="middle" fill="#141414" stroke="#141414">51</text>
<text x="466.20" y="536.60" font-size="8.3" text-anchor="middle" fill="#141414" stroke="#141414">12</text>
<text x="511.20" y="536.60" font-size="8.3" text-anchor="middle" fill="#141414" stroke="#141414">0</text>
<text x="333.80" y="550.70" font-size="8.3" text-anchor="middle" fill="#141414" stroke="#141414">42</text>
<text x="377.30" y="550.70" font-size="8.3" text-anchor="middle" fill="#141414" stroke="#141414">16</text>
<text x="421.30" y="550.70" font-size="8.3" text-anchor="middle" fill="#141414" stroke="#141414">2</text>
<text x="466.20" y="550.70" font-size="8.3" text-anchor="middle" fill="#141414" stroke="#141414">0</text>
<text x="511.20" y="550.70" font-size="8.3" text-anchor="middle" fill="#141414" stroke="#141414">0</text>
<text x="333.80" y="565.20" font-size="8.3" text-anchor="middle" fill="#141414" stroke="#141414">61</text>
<text x="377.30" y="565.20" font-size="8.3" text-anchor="middle" fill="#141414" stroke="#141414">21</text>
<text x="421.30" y="565.20" font-size="8.3" text-anchor="middle" fill="#141414" stroke="#141414">3</text>
<text x="466.20" y="565.20" font-size="8.3" text-anchor="middle" fill="#141414" stroke="#141414">1</text>
<text x="511.20" y="565.20" font-size="8.3" text-anchor="middle" fill="#141414" stroke="#141414">0</text>
</svg>
</body></html>
